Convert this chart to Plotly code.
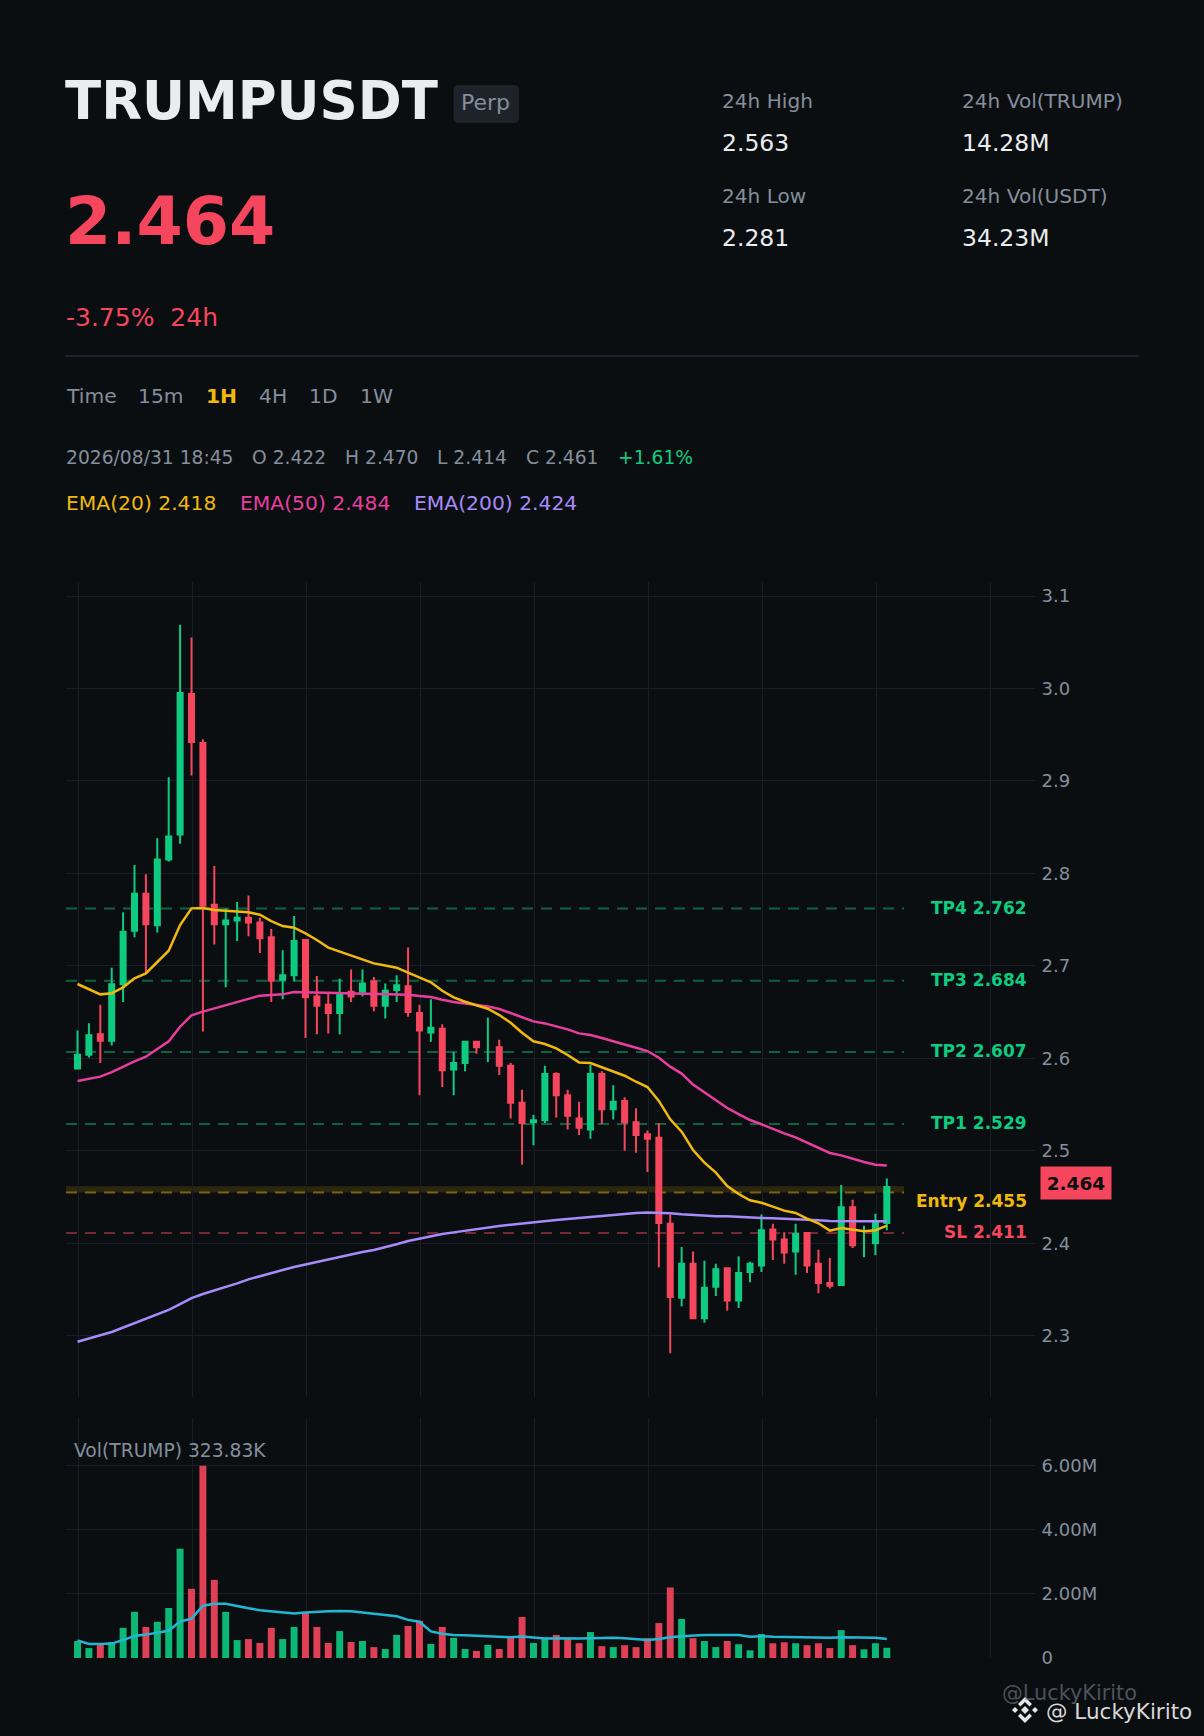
from plotly.subplots import make_subplots
import plotly.graph_objects as go

W, H = 1204, 1736
BG = '#0b0e11'
GRID = '#191d26'
GREY = '#848e9c'
UP = '#0ecb81'
DOWN = '#f6465d'
YELLOW = '#f0b90b'
PINK = '#e83e9e'
PURPLE = '#a78bfa'
CYAN = '#22b8d4'
FONT = 'DejaVu Sans'

opens = [2.589, 2.604, 2.626, 2.619, 2.680, 2.738, 2.778, 2.744, 2.815, 2.842,
         2.994, 2.941, 2.766, 2.745, 2.749, 2.752, 2.747, 2.731, 2.685, 2.690,
         2.728, 2.667, 2.658, 2.649, 2.672, 2.672, 2.683, 2.657, 2.674, 2.678,
         2.649, 2.628, 2.632, 2.588, 2.595, 2.618, None, 2.612, 2.592, 2.552,
         2.531, 2.533, 2.583, 2.560, 2.535, 2.523, 2.583, 2.545, 2.554, 2.531,
         2.518, 2.514, 2.421, 2.341, 2.378, 2.319, 2.353, 2.373, 2.338, 2.369,
         2.376, 2.415, 2.404, 2.391, 2.411, 2.378, 2.357, 2.355, 2.439, None,
         2.400, 2.422]
highs = [2.630, 2.638, 2.658, 2.698, 2.758, 2.809, 2.799, 2.838, 2.904, 3.069,
         3.055, 2.945, 2.808, 2.762, 2.769, 2.776, 2.752, 2.740, 2.717, 2.754,
         2.729, 2.689, 2.672, 2.686, 2.696, 2.696, 2.688, 2.681, 2.690, 2.720,
         2.658, 2.664, 2.637, 2.607, 2.619, 2.619, 2.644, 2.620, 2.595, 2.566,
         2.539, 2.592, 2.585, 2.566, 2.553, 2.593, 2.586, 2.571, 2.558, 2.546,
         2.522, 2.530, 2.431, 2.396, 2.391, 2.381, 2.378, 2.373, 2.386, 2.380,
         2.431, 2.421, 2.412, 2.421, 2.411, 2.393, 2.384, 2.463, 2.447, 2.419,
         2.432, 2.470]
lows = [2.588, 2.601, 2.595, 2.614, 2.661, 2.731, 2.692, 2.736, 2.813, 2.832,
        2.906, 2.629, 2.723, 2.677, 2.727, 2.732, 2.714, 2.661, 2.664, 2.683,
        2.622, 2.626, 2.627, 2.626, 2.661, 2.667, 2.651, 2.643, 2.661, 2.645,
        2.560, 2.618, 2.569, 2.560, 2.586, 2.605, 2.596, 2.582, 2.535, 2.485,
        2.506, 2.530, 2.536, 2.523, 2.517, 2.513, 2.529, 2.534, 2.500, 2.498,
        2.477, 2.374, 2.281, 2.332, 2.318, 2.314, 2.343, 2.327, 2.330, 2.358,
        2.369, 2.382, 2.378, 2.366, 2.368, 2.346, 2.351, 2.354, 2.395, 2.385,
        2.387, 2.414]
closes = [2.604, 2.625, 2.619, 2.680, 2.737, 2.778, 2.745, 2.815, 2.840, 2.995,
          2.942, 2.765, 2.745, 2.749, 2.752, 2.747, 2.730, 2.684, 2.690, 2.727,
          2.666, 2.657, 2.649, 2.669, 2.667, 2.681, 2.657, 2.673, 2.679, 2.650,
          2.630, 2.633, 2.587, 2.595, 2.618, 2.612, None, 2.592, 2.552, 2.530,
          2.533, 2.583, 2.560, 2.538, 2.525, 2.583, 2.545, 2.553, 2.531, 2.517,
          2.513, 2.422, 2.342, 2.378, 2.319, 2.352, 2.372, 2.338, 2.368, 2.378,
          2.414, 2.404, 2.390, 2.410, 2.376, 2.357, 2.354, 2.439, 2.398, None,
          2.422, 2.461]

ema20 = [2.6804, 2.6746, 2.6692, 2.6703, 2.6768, 2.6865, 2.6919, 2.7042, 2.7164, 2.7442,
         2.7622, 2.7626, 2.7604, 2.7597, 2.7590, 2.7579, 2.7554, 2.7485, 2.7431, 2.7413,
         2.7352, 2.7280, 2.7197, 2.7154, 2.7106, 2.7070, 2.7027, 2.7005, 2.6980, 2.6926,
         2.6872, 2.6822, 2.6731, 2.6659, 2.6612, 2.6573, 2.6537, 2.6468, 2.6385, 2.6277,
         2.6184, 2.6155, 2.6108, 2.6036, 2.5956, 2.5949, 2.5902, 2.5863, 2.5812, 2.5747,
         2.5690, 2.5540, 2.5341, 2.5207, 2.5009, 2.4872, 2.4764, 2.4620, 2.4533, 2.4465,
         2.4439, 2.4396, 2.4353, 2.4328, 2.4266, 2.4216, 2.4137, 2.4166, 2.4144, 2.4130,
         2.4140, 2.4191]
ema50 = [2.5754, 2.5778, 2.5802, 2.5850, 2.5910, 2.5968, 2.6018, 2.6097, 2.6184, 2.6342,
         2.6465, 2.6505, 2.6541, 2.6577, 2.6613, 2.6649, 2.6678, 2.6685, 2.6692, 2.6717,
         2.6714, 2.6710, 2.6703, 2.6703, 2.6703, 2.6699, 2.6699, 2.6695, 2.6692, 2.6688,
         2.6674, 2.6663, 2.6634, 2.6609, 2.6594, 2.6576, 2.6562, 2.6533, 2.6490, 2.6443,
         2.6400, 2.6378, 2.6349, 2.6313, 2.6270, 2.6252, 2.6220, 2.6187, 2.6151, 2.6115,
         2.6079, 2.6007, 2.5910, 2.5835, 2.5716, 2.5629, 2.5550, 2.5463, 2.5398, 2.5333,
         2.5287, 2.5236, 2.5189, 2.5146, 2.5092, 2.5034, 2.4977, 2.4951, 2.4912, 2.4879,
         2.4850, 2.4840]
ema200 = [2.2936, 2.2968, 2.3005, 2.3041, 2.3087, 2.3138, 2.3185, 2.3232, 2.3279, 2.3343,
          2.3408, 2.3452, 2.3488, 2.3527, 2.3567, 2.3610, 2.3646, 2.3679, 2.3711, 2.3744,
          2.3772, 2.3798, 2.3823, 2.3852, 2.3877, 2.3906, 2.3927, 2.3956, 2.3990, 2.4024,
          2.4050, 2.4075, 2.4100, 2.4118, 2.4136, 2.4158, 2.4172, 2.4187, 2.4201, 2.4215,
          2.4226, 2.4241, 2.4252, 2.4262, 2.4273, 2.4288, 2.4302, 2.4313, 2.4320, 2.4327,
          2.4334, 2.4331, 2.4324, 2.4313, 2.4306, 2.4297, 2.4293, 2.4292, 2.4284, 2.4277,
          2.4274, 2.4270, 2.4266, 2.4263, 2.4255, 2.4248, 2.4241, 2.4237, 2.4237, 2.4237,
          2.4237, 2.4237]

volumes = [0.53, 0.31, 0.41, 0.50, 0.94, 1.44, 0.97, 1.13, 1.56, 3.41,
           2.16, 6.00, 2.44, 1.44, 0.56, 0.59, 0.47, 0.94, 0.59, 0.97,
           1.41, 0.97, 0.47, 0.84, 0.50, 0.53, 0.34, 0.28, 0.72, 1.00,
           1.16, 0.44, 0.97, 0.63, 0.28, 0.22, 0.41, 0.28, 0.63, 1.28,
           0.47, 0.63, 0.72, 0.59, 0.46, 0.81, 0.37, 0.34, 0.40, 0.34,
           0.62, 1.09, 2.20, 1.22, 0.62, 0.53, 0.34, 0.53, 0.43, 0.24,
           0.75, 0.46, 0.49, 0.46, 0.40, 0.46, 0.31, 0.87, 0.40, 0.27,
           0.46, 0.32]
vol_ma = [0.55, 0.44, 0.44, 0.45, 0.56, 0.69, 0.73, 0.79, 0.85, 1.14,
          1.23, 1.63, 1.69, 1.69, 1.61, 1.55, 1.49, 1.46, 1.42, 1.39,
          1.42, 1.45, 1.46, 1.47, 1.46, 1.42, 1.39, 1.34, 1.30, 1.19,
          1.13, 0.83, 0.76, 0.72, 0.71, 0.69, 0.69, 0.66, 0.65, 0.67,
          0.63, 0.61, 0.62, 0.61, 0.61, 0.62, 0.63, 0.63, 0.62, 0.59,
          0.56, 0.59, 0.65, 0.68, 0.71, 0.72, 0.72, 0.73, 0.72, 0.66,
          0.68, 0.66, 0.65, 0.65, 0.64, 0.63, 0.63, 0.65, 0.65, 0.65,
          0.63, 0.59]

level_names = ['TP4', 'TP3', 'TP2', 'TP1', 'Entry', 'SL']
level_values = [2.762, 2.684, 2.607, 2.529, 2.455, 2.411]
level_colors = [UP, UP, UP, UP, YELLOW, DOWN]
entry_zone = [2.455, 2.4616]
last_price = 2.464

price_ticks = [2.3, 2.4, 2.5, 2.6, 2.7, 2.8, 2.9, 3.0, 3.1]
vol_ticks = [0, 2, 4, 6]
vol_tick_labels = ['0', '2.00M', '4.00M', '6.00M']
wick_only = [36, 69]

idx = list(range(len(highs)))
is_up = [c is None or c >= o for o, c in zip(opens, closes)]


def fx(px):
    return px / W


def fy(py):
    return 1 - py / H


def poly(points):
    return 'M ' + ' L '.join(f'{fx(x):.5f},{fy(y):.5f}' for x, y in points) + ' Z'


def rounded_rect(x0, y0, x1, y1, r):
    return (f'M {fx(x0 + r):.5f},{fy(y0):.5f} L {fx(x1 - r):.5f},{fy(y0):.5f} '
            f'Q {fx(x1):.5f},{fy(y0):.5f} {fx(x1):.5f},{fy(y0 + r):.5f} L {fx(x1):.5f},{fy(y1 - r):.5f} '
            f'Q {fx(x1):.5f},{fy(y1):.5f} {fx(x1 - r):.5f},{fy(y1):.5f} L {fx(x0 + r):.5f},{fy(y1):.5f} '
            f'Q {fx(x0):.5f},{fy(y1):.5f} {fx(x0):.5f},{fy(y1 - r):.5f} L {fx(x0):.5f},{fy(y0 + r):.5f} '
            f'Q {fx(x0):.5f},{fy(y0):.5f} {fx(x0 + r):.5f},{fy(y0):.5f} Z')


fig = make_subplots(rows=2, cols=1, shared_xaxes=True)

fig.add_trace(go.Candlestick(
    x=idx, open=opens, high=highs, low=lows, close=closes,
    increasing=dict(line=dict(color=UP, width=2), fillcolor=UP),
    decreasing=dict(line=dict(color=DOWN, width=2), fillcolor=DOWN),
    whiskerwidth=0, showlegend=False), row=1, col=1)

# candles where no body can be seen, only the wick
wick_x, wick_y = [], []
for i in wick_only:
    wick_x += [i, i, None]
    wick_y += [highs[i], lows[i], None]
fig.add_trace(go.Scatter(x=wick_x, y=wick_y, mode='lines', line=dict(color=UP, width=2)), row=1, col=1)

for values, color in [(ema200, PURPLE), (ema50, PINK), (ema20, YELLOW)]:
    fig.add_trace(go.Scatter(x=idx, y=values, mode='lines', line=dict(color=color, width=2.5)), row=1, col=1)

fig.add_trace(go.Bar(x=idx, y=volumes, marker=dict(color=[UP if u else DOWN for u in is_up], line_width=0),
                     opacity=0.9), row=2, col=1)
fig.add_trace(go.Scatter(x=idx, y=vol_ma, mode='lines', line=dict(color=CYAN, width=2.5)), row=2, col=1)

shapes = []
annotations = []


def add_text(x, y, text, size, color, bold=False, anchor='left'):
    if bold:
        text = f'<b>{text}</b>'
    annotations.append(dict(x=fx(x), y=fy(y), xref='paper', yref='paper', text=text, showarrow=False,
                            xanchor=anchor, yanchor='middle', borderpad=0,
                            font=dict(family=FONT, size=size, color=color)))


# levels
level_end = (904 - 66) / (1035 - 66)
shapes.append(dict(type='rect', xref='x domain', yref='y', x0=0, x1=level_end, y0=entry_zone[0], y1=entry_zone[1],
                   fillcolor=YELLOW, opacity=0.15, line_width=0, layer='below'))
for name, value, color in zip(level_names, level_values, level_colors):
    shapes.append(dict(type='line', xref='x domain', yref='y', x0=0, x1=level_end, y0=value, y1=value,
                       line=dict(color=color, width=2, dash='11px,8px'), opacity=0.45, layer='below'))
    annotations.append(dict(x=fx(1029), y=value, xref='paper', yref='y', text=f'<b>{name} {value:.3f}</b>',
                            showarrow=False, xanchor='right', yanchor='middle',
                            yshift=-9 if name == 'Entry' else 1,
                            font=dict(family=FONT, size=17, color=color)))

annotations.append(dict(x=fx(1040), y=last_price, xref='paper', yref='y', text=f'<b>{last_price:.3f}</b>',
                        showarrow=False, xanchor='left', yanchor='middle', width=68, height=30, align='center',
                        yshift=1, bgcolor=DOWN, font=dict(family=FONT, size=18.5, color=BG)))

# header
add_text(64, 100, 'TRUMPUSDT', 53, '#eaecef', bold=True)
shapes.append(dict(type='path', xref='paper', yref='paper', path=rounded_rect(453.5, 85, 519, 123, 5),
                   fillcolor='#1e2329', line_width=0))
add_text(460, 103, 'Perp', 22, GREY)
add_text(64, 221, '2.464', 66.5, DOWN, bold=True)
add_text(65, 317, '-3.75%  24h', 25, DOWN)
add_text(721, 101, '24h High', 20.1, GREY)
add_text(721, 143, '2.563', 23.5, '#eaecef')
add_text(721, 196, '24h Low', 20.1, GREY)
add_text(721, 238, '2.281', 23.5, '#eaecef')
add_text(961, 101, '24h Vol(TRUMP)', 20.1, GREY)
add_text(961, 143, '14.28M', 23.5, '#eaecef')
add_text(961, 196, '24h Vol(USDT)', 20.1, GREY)
add_text(961, 238, '34.23M', 23.5, '#eaecef')
shapes.append(dict(type='line', xref='paper', yref='paper', x0=fx(65), x1=fx(1138.5), y0=fy(356), y1=fy(356),
                   line=dict(color='#1e2330', width=2)))
add_text(65, 396, 'Time', 20.3, GREY)
add_text(137, 396, '15m', 20.3, GREY)
add_text(205, 396, '1H', 20.3, YELLOW, bold=True)
add_text(258, 396, '4H', 20.3, GREY)
add_text(308, 396, '1D', 20.3, GREY)
add_text(359, 396, '1W', 20.3, GREY)
add_text(65, 457, '2026/08/31 18:45', 18.7, GREY)
add_text(251, 457, 'O 2.422', 18.7, GREY)
add_text(344, 457, 'H 2.470', 18.7, GREY)
add_text(436, 457, 'L 2.414', 18.7, GREY)
add_text(525, 457, 'C 2.461', 18.7, GREY)
add_text(617, 457, '+1.61%', 18.7, UP)
add_text(65, 503, 'EMA(20) 2.418', 20.3, YELLOW)
add_text(239, 503, 'EMA(50) 2.484', 20.3, PINK)
add_text(413, 503, 'EMA(200) 2.424', 20.3, PURPLE)
add_text(73, 1450, 'Vol(TRUMP) 323.83K', 18.7, GREY)

# watermarks
add_text(1001, 1693, '@LuckyKirito', 20.8, 'rgba(132,142,156,0.55)')
add_text(1045, 1711, '@ LuckyKirito', 21.5, '#d8d8d8')
logo_x, logo_y = 1025, 1710
for pts in [[(-4, 0), (0, -4), (4, 0), (0, 4)],
            [(-13, 0), (-10, -3), (-7, 0), (-10, 3)],
            [(7, 0), (10, -3), (13, 0), (10, 3)],
            [(-7, -6), (0, -13), (7, -6), (4.5, -3.5), (0, -8), (-4.5, -3.5)],
            [(-7, 6), (0, 13), (7, 6), (4.5, 3.5), (0, 8), (-4.5, 3.5)]]:
    shapes.append(dict(type='path', xref='paper', yref='paper', fillcolor='#e6e6e6', line_width=0,
                       path=poly([(logo_x + a, logo_y + b) for a, b in pts])))

axis_common = dict(showline=False, zeroline=False, gridcolor=GRID, gridwidth=1)
x_axis = dict(domain=[fx(66), fx(1035)], range=[-1.01, 84.0], tickmode='linear', tick0=0.1, dtick=10,
              showticklabels=False, ticks='', rangeslider_visible=False, **axis_common)
fig.update_layout(
    width=W, height=H, autosize=False,
    margin=dict(l=0, r=0, t=0, b=0, autoexpand=False),
    paper_bgcolor=BG, plot_bgcolor=BG,
    showlegend=False,
    boxgap=0.56,
    boxgroupgap=0,
    bargap=0.39,
    font=dict(family=FONT),
    xaxis=x_axis,
    xaxis2=x_axis,
    yaxis=dict(domain=[fy(1396.7), fy(582)], range=[3.1 - (1396.7 - 596) / 924.7, 3.1 + 14 / 924.7],
               side='right', tickvals=price_ticks, ticktext=[f'{t:.1f}' for t in price_ticks],
               ticks='outside', ticklen=2, tickcolor=BG,
               tickfont=dict(family=FONT, size=18, color=GREY), **axis_common),
    yaxis2=dict(domain=[fy(1658), fy(1417.7)], range=[0, 240 / 32], side='right',
                tickvals=vol_ticks, ticktext=vol_tick_labels,
                ticks='outside', ticklen=2, tickcolor=BG,
                tickfont=dict(family=FONT, size=18, color=GREY), **axis_common),
    shapes=shapes,
    annotations=annotations,
)

fig.write_html('out.html', config={'displayModeBar': False},
               post_script="document.body.style.margin='0';document.body.style.background='#0b0e11';")
